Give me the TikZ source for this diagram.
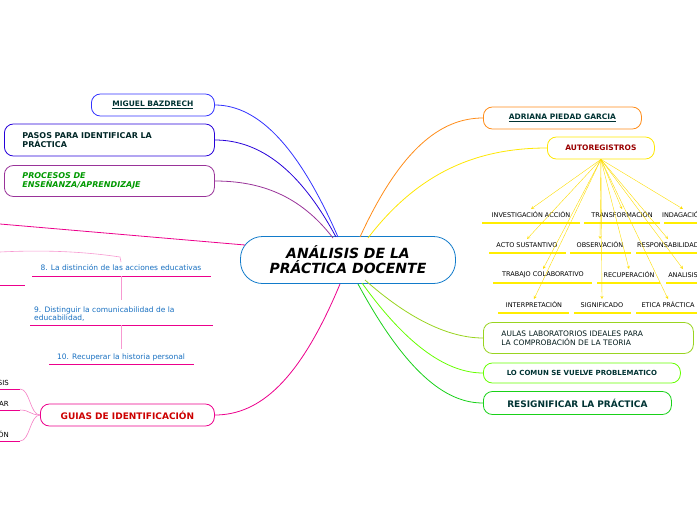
\documentclass[tikz,border=0pt]{standalone}
\usepackage{fontspec}
\setmainfont{DejaVu Sans}
\begin{document}
\begin{tikzpicture}[x=1pt,y=-1pt,
 box/.style={draw,rounded corners=9pt,line width=0.8pt,minimum height=22pt,inner xsep=8pt,font=\fontsize{8}{9}\selectfont\bfseries,anchor=west,align=left},
 it/.style={font=\fontsize{6.5}{7}\selectfont,inner sep=1pt},
 ul/.style={yellow!95!orange,line width=1.2pt},
 bl/.style={font=\fontsize{7.5}{8.5}\selectfont,text=cyan!50!blue,align=left,inner sep=1pt},
 conn/.style={line width=0.8pt}]
\useasboundingbox (0,0) rectangle (697,520);
\clip (0,0) rectangle (697,520);
% centre
\node[draw=cyan!60!blue,rounded corners=22pt,minimum width=215pt,minimum height=47pt,line width=0.8pt,align=center,font=\fontsize{14}{15}\selectfont\bfseries\itshape] (c) at (348,260) {ANÁLISIS DE LA\\PRÁCTICA DOCENTE};
% left
\node[box,draw=blue!80,minimum width=123pt,text=teal!40!black,font=\fontsize{7.5}{9}\selectfont\bfseries] (m) at (91,105) {\underline{MIGUEL BAZDRECH}};
\node[box,draw=blue!70!violet,minimum height=32pt,text=teal!30!black,inner xsep=0pt,text width=210pt,align=left] (p) at (4,140) {\hspace*{18pt}PASOS PARA IDENTIFICAR LA\\\hspace*{18pt}PRÁCTICA};
\node[box,draw=violet!80,minimum height=31pt,text=green!60!black,inner xsep=0pt,text width=210pt,font=\fontsize{8}{9}\selectfont\bfseries\itshape] (pr) at (4,181) {\hspace*{18pt}PROCESOS DE\\\hspace*{18pt}ENSEÑANZA/APRENDIZAJE};
\node[box,draw=magenta,minimum width=174pt,text=red!80!black,font=\fontsize{9}{10}\selectfont\bfseries] (g) at (40,415) {GUIAS DE IDENTIFICACIÓN};
\draw[conn,blue!80] (338,237) .. controls (300,150) and (260,105) .. (m.east);
\draw[conn,blue!70!violet] (336,237) .. controls (300,170) and (260,140) .. (p.east);
\draw[conn,violet!80] (333,238) .. controls (300,195) and (260,181) .. (pr.east);
\coordinate (lm) at (0,224);
\draw[conn,magenta] (lm) -- (245,245);
\draw[conn,magenta] (340,284) .. controls (300,380) and (260,415) .. (g.east);
% left branch items
\coordinate (lp) at (0,252);
\draw[magenta!40,line width=0.6pt] (lp) .. controls (40,250) and (80,251) .. (120,257) to (121,262);
\draw[magenta,line width=1pt] (0,285) -- (25,285);
\node[bl] (t8) at (121,268) {8. La distinción de las acciones educativas};
\draw[magenta,line width=1pt] (32,276) -- (211,276);
\node[bl,anchor=west] (t9) at (33,314) {9. Distinguir la comunicabilidad de la\\educabilidad,};
\draw[magenta,line width=1pt] (30,325) -- (213,325);
\node[bl] (t10) at (121,357) {10. Recuperar la historia personal};
\draw[magenta,line width=1pt] (49,364) -- (194,364);
\draw[magenta!40] (121,276) -- (121,300);
\draw[magenta!40] (121,325) -- (121,349);
% guias children
\foreach \y/\t/\n in {389/ANÁLISIS/ga,410/VALORAR/gb,441/INTERPRETACIÓN/gc}{
 \node[it,anchor=south east,font=\fontsize{7}{8}\selectfont] (\n) at (10,\y-2) {\t};
 \draw[magenta,line width=1pt] (0,\y) -- (20,\y);
 \draw[magenta!50,line width=0.6pt] (g.west) .. controls (30,415) and (30,\y) .. (20,\y);
}
% right
\node[box,draw=orange!90,minimum width=158pt,text=teal!40!black,font=\fontsize{7.5}{9}\selectfont\bfseries] (a) at (483,118) {\underline{ADRIANA PIEDAD GARCIA}};
\node[box,draw=yellow!90!orange,minimum width=107pt,text=red!60!black,font=\fontsize{7.5}{9}\selectfont\bfseries] (au) at (547,148) {AUTOREGISTROS};
\node[box,draw=yellow!60!green,minimum height=31pt,font=\fontsize{7.5}{9}\selectfont,text=teal!20!black,inner xsep=0pt,text width=210pt] (au2) at (483,338) {\hspace*{18pt}AULAS LABORATORIOS IDEALES PARA\\\hspace*{18pt}LA COMPROBACIÓN DE LA TEORIA};
\node[box,draw=green!60!yellow,minimum width=197pt,minimum height=20pt,text=teal!40!black,font=\fontsize{7}{8}\selectfont\bfseries,inner xsep=12pt] (lc) at (483,373) {LO COMUN SE VUELVE PROBLEMATICO};
\node[box,draw=green!80!black!90,minimum width=188pt,minimum height=23pt,text=teal!40!black,font=\fontsize{9}{10}\selectfont\bfseries,inner xsep=12pt] (rs) at (483,403) {RESIGNIFICAR LA PRÁCTICA};
\draw[conn,orange!90] (360,237) .. controls (400,150) and (440,118) .. (a.west);
\draw[conn,yellow!90!orange] (368,238) .. controls (420,170) and (480,148) .. (au.west);
\draw[conn,yellow!60!green] (365,280) .. controls (410,320) and (450,338) .. (au2.west);
\draw[conn,green!60!yellow] (362,283) .. controls (410,350) and (450,373) .. (lc.west);
\draw[conn,green!80!black!90] (358,284) .. controls (410,380) and (450,403) .. (rs.west);
% autoregistros items
\foreach \x/\y/\a/\b/\t/\n in {
531/215/482/580/INVESTIGACIÓN ACCIÓN/i1, 622/215/584/660/TRANSFORMACIÓN/i2, 683/215/664/710/INDAGACIÓN/i3,
527/245/489/566/ACTO SUSTANTIVO/i4, 600/245/570/631/OBSERVACIÓN/i5, 668/245/636/710/RESPONSABILIDAD/i6,
543/275/493/592/TRABAJO COLABORATIVO/i7, 629/275/597/660/RECUPERACIÓN/i8, 683/275/666/710/ANALISIS/i9,
534/305/498/569/INTERPRETACIÓN/i10, 602/305/574/631/SIGNIFICADO/i11, 668/305/636/710/ETICA PRÁCTICA/i12}{
 \node[it] (\n) at (\x,\y) {\t};
 \draw[ul] (\a,\y+8) -- (\b,\y+8);
 \draw[yellow!80!orange,line width=0.4pt,->,>=stealth] (au.south) -- (\x,\y-6);
}
\end{tikzpicture}
\end{document}
